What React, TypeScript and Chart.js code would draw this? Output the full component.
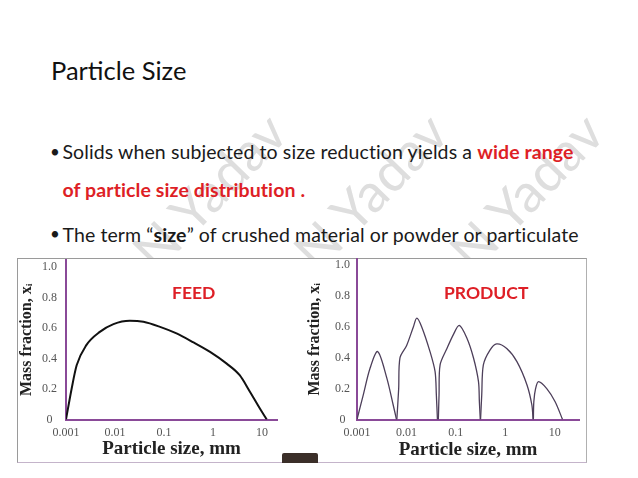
import React, { useEffect, useRef } from "react";
import { Chart, registerables } from "chart.js";

Chart.register(...registerables);

// ---- data ----
const xTickValues = [0.001, 0.01, 0.1, 1, 10];
const xTickLabels = ["0.001", "0.01", "0.1", "1", "10"];
const yTickValues = [0, 0.2, 0.4, 0.6, 0.8, 1.0];
const yTickLabels = ["0", "0.2", "0.4", "0.6", "0.8", "1.0"];

const feedSizes = [0.001, 0.0013, 0.00165, 0.0026, 0.0049, 0.0093, 0.02, 0.038, 0.083, 0.18, 0.4, 0.87, 1.9, 3.5, 5.7, 9.1, 12.5];
const feedFractions = [0, 0.2, 0.355, 0.487, 0.574, 0.625, 0.647, 0.64, 0.607, 0.564, 0.505, 0.443, 0.366, 0.29, 0.18, 0.07, 0];

const productSizes1 = [0.001, 0.00134, 0.00183, 0.00262, 0.004, 0.0054, 0.0063];
const productFractions1 = [0, 0.16, 0.33, 0.44, 0.27, 0.094, 0];
const productSizes2 = [0.0064, 0.00697, 0.0074, 0.0101, 0.0138, 0.0162, 0.0204, 0.03, 0.038, 0.0403, 0.0424];
const productFractions2 = [0, 0.2, 0.4, 0.48, 0.6, 0.657, 0.6, 0.44, 0.31, 0.16, 0];
const productSizes3 = [0.0442, 0.0457, 0.048, 0.066, 0.089, 0.117, 0.166, 0.227, 0.287, 0.299, 0.312];
const productFractions3 = [0, 0.16, 0.354, 0.46, 0.55, 0.61, 0.53, 0.4, 0.245, 0.116, 0];
const productSizes4 = [0.316, 0.334, 0.36, 0.49, 0.67, 1.07, 1.72, 2.75, 3.45, 3.65];
const productFractions4 = [0, 0.16, 0.354, 0.45, 0.49, 0.46, 0.375, 0.224, 0.094, 0];
const productSizes5 = [3.7, 3.78, 4.1, 4.7, 6.9, 10.2, 14.4];
const productFractions5 = [0, 0.116, 0.2, 0.245, 0.2, 0.115, 0];

// ---- styles ----
const SERIF = "'Liberation Serif', 'Times New Roman', serif";
const AXIS_COLOR = "#8a4a98";
const RED = "#de1f26";

const toPoints = (xs: number[], ys: number[]) => xs.map((x, i) => ({ x, y: ys[i] }));

type PanelProps = {
  left: number;
  top: number;
  width: number;
  height: number;
  datasets: any[];
  xMax: number;
  yMax: number;
  yAxisWidth: number;
  xAxisHeight: number;
  padTop: number;
  padRight: number;
  yTitlePad: number;
  xTitlePad: number;
  yTickPad: number;
};

function Panel(p: PanelProps) {
  const ref = useRef<HTMLCanvasElement | null>(null);
  useEffect(() => {
    if (!ref.current) return;
    const chart = new Chart(ref.current, {
      type: "line",
      data: { datasets: p.datasets },
      options: {
        responsive: false,
        animation: false,
        devicePixelRatio: 1,
        layout: { padding: { top: p.padTop, right: p.padRight, left: 0, bottom: 0 } },
        plugins: { legend: { display: false }, tooltip: { enabled: false } },
        elements: { point: { radius: 0, hoverRadius: 0 } },
        scales: {
          x: {
            type: "logarithmic",
            min: 0.001,
            max: p.xMax,
            grid: { display: false, drawTicks: false },
            border: { display: true, color: AXIS_COLOR, width: 2 },
            afterBuildTicks: (s: any) => {
              s.ticks = xTickValues.map((v) => ({ value: v }));
            },
            ticks: {
              autoSkip: false,
              maxRotation: 0,
              padding: 6.5,
              color: "#555",
              font: { family: SERIF, size: 12 },
              callback: (_v: any, i: number) => xTickLabels[i],
            },
            title: {
              display: true,
              text: "Particle size, mm",
              color: "#222",
              font: { family: SERIF, size: 19, weight: "bold" },
              padding: { top: 0, bottom: p.xTitlePad },
            },
            afterFit: (s: any) => {
              s.height = p.xAxisHeight;
              s.paddingLeft = 0;
              s.paddingRight = 0;
            },
          },
          y: {
            type: "linear",
            min: 0,
            max: p.yMax,
            grid: { display: false, drawTicks: false },
            border: { display: true, color: AXIS_COLOR, width: 2 },
            afterBuildTicks: (s: any) => {
              s.ticks = yTickValues.map((v) => ({ value: v }));
            },
            ticks: {
              autoSkip: false,
              crossAlign: "center",
              padding: p.yTickPad,
              color: "#555",
              font: { family: SERIF, size: 12 },
              callback: (_v: any, i: number) => yTickLabels[i],
            },
            title: {
              display: true,
              text: "Mass fraction, x\u1D62",
              color: "#222",
              font: { family: SERIF, size: 16, weight: "bold" },
              padding: { top: p.yTitlePad, bottom: 0 },
            },
            afterFit: (s: any) => {
              s.width = p.yAxisWidth;
              s.paddingTop = 0;
              s.paddingBottom = 0;
            },
          },
        },
      } as any,
    });
    return () => chart.destroy();
  }, []);
  return (
    <canvas
      ref={ref}
      width={p.width}
      height={p.height}
      style={{ position: "absolute", left: p.left, top: p.top, width: p.width, height: p.height }}
    />
  );
}

const feedDatasets = [
  {
    data: toPoints(feedSizes, feedFractions),
    borderColor: "#111",
    borderWidth: 2,
    cubicInterpolationMode: "monotone",
    fill: false,
  },
];

const productDatasets = [
  [productSizes1, productFractions1],
  [productSizes2, productFractions2],
  [productSizes3, productFractions3],
  [productSizes4, productFractions4],
  [productSizes5, productFractions5],
].map(([xs, ys]) => ({
  data: toPoints(xs, ys),
  borderColor: "#4d3f5a",
  borderWidth: 1.3,
  tension: 0.3,
  fill: false,
}));

const watermark = (cx: number, cy: number) => (
  <div
    key={cx}
    style={{
      position: "absolute",
      left: cx,
      top: cy,
      transform: "translate(-50%, -50%) rotate(-46deg)",
      fontFamily: "Lato, sans-serif",
      fontSize: 54,
      color: "#dedede",
      whiteSpace: "nowrap",
      lineHeight: 1,
    }}
  >
    N Yadav
  </div>
);

const lineStyle = (top: number): React.CSSProperties => ({
  position: "absolute",
  left: 62.5,
  top,
  fontFamily: "Lato, sans-serif",
  fontSize: 19.5,
  letterSpacing: "0.1px",
  lineHeight: "23.4px",
  color: "#1a1a1a",
  whiteSpace: "nowrap",
});

const bulletStyle = (top: number): React.CSSProperties => ({
  ...lineStyle(top),
  left: 50,
  fontSize: 17,
  top: top + 1.5,
  lineHeight: "20.4px",
});

export default function App() {
  return (
    <div
      style={{
        position: "fixed",
        left: 0,
        top: 0,
        width: 638,
        height: 478,
        background: "#fff",
        overflow: "hidden",
      }}
    >
      {[209, 370, 526].map((cx) => watermark(cx, 191))}

      <div
        style={{
          position: "absolute",
          left: 51,
          top: 54.8,
          fontFamily: "Lato, sans-serif",
          fontSize: 25.5,
          lineHeight: "30.6px",
          color: "#111",
          whiteSpace: "nowrap",
        }}
      >
        Particle Size
      </div>

      <div style={bulletStyle(140)}>•</div>
      <div style={lineStyle(140)}>
        Solids when subjected to size reduction yields a{" "}
        <b style={{ color: RED }}>wide range</b>
      </div>
      <div style={{ ...lineStyle(177.5), color: RED, fontWeight: "bold" }}>
        of particle size distribution .
      </div>
      <div style={bulletStyle(222.5)}>•</div>
      <div style={lineStyle(222.5)}>
        The term “<b>size</b>” of crushed material or powder or particulate
      </div>

      <div
        style={{
          position: "absolute",
          left: 17,
          top: 258,
          width: 570,
          height: 205,
          boxSizing: "border-box",
          background: "#fff",
          borderTop: "1px solid #9a9a9a",
          borderLeft: "1px solid #9a9a9a",
          borderRight: "1px solid #b0b0b0",
          borderBottom: "1px solid #c4b4ca",
        }}
      />

      <Panel
        left={17}
        top={258}
        width={266}
        height={204}
        datasets={feedDatasets}
        xMax={20.2}
        yMax={1.045}
        yAxisWidth={49}
        xAxisHeight={42.5}
        padTop={2}
        padRight={6}
        yTitlePad={0.4}
        xTitlePad={1.6}
        yTickPad={9}
      />
      <Panel
        left={283}
        top={258}
        width={302}
        height={204}
        datasets={productDatasets}
        xMax={31}
        yMax={1.04}
        yAxisWidth={74}
        xAxisHeight={42.5}
        padTop={1}
        padRight={6}
        yTitlePad={22.4}
        xTitlePad={0.6}
        yTickPad={7}
      />

      <div
        style={{
          position: "absolute",
          left: 172,
          top: 282,
          fontFamily: "Lato, sans-serif",
          fontWeight: "bold",
          fontSize: 17.5,
          lineHeight: "21px",
          color: RED,
          whiteSpace: "nowrap",
        }}
      >
        FEED
      </div>
      <div
        style={{
          position: "absolute",
          left: 444,
          top: 281.7,
          fontFamily: "Lato, sans-serif",
          fontWeight: "bold",
          fontSize: 17.5,
          lineHeight: "21px",
          color: RED,
          whiteSpace: "nowrap",
        }}
      >
        PRODUCT
      </div>

      <div
        style={{
          position: "absolute",
          left: 282,
          top: 453,
          width: 36,
          height: 10,
          background: "#3b2f29",
          borderRadius: "2px 2px 0 0",
        }}
      />
    </div>
  );
}
